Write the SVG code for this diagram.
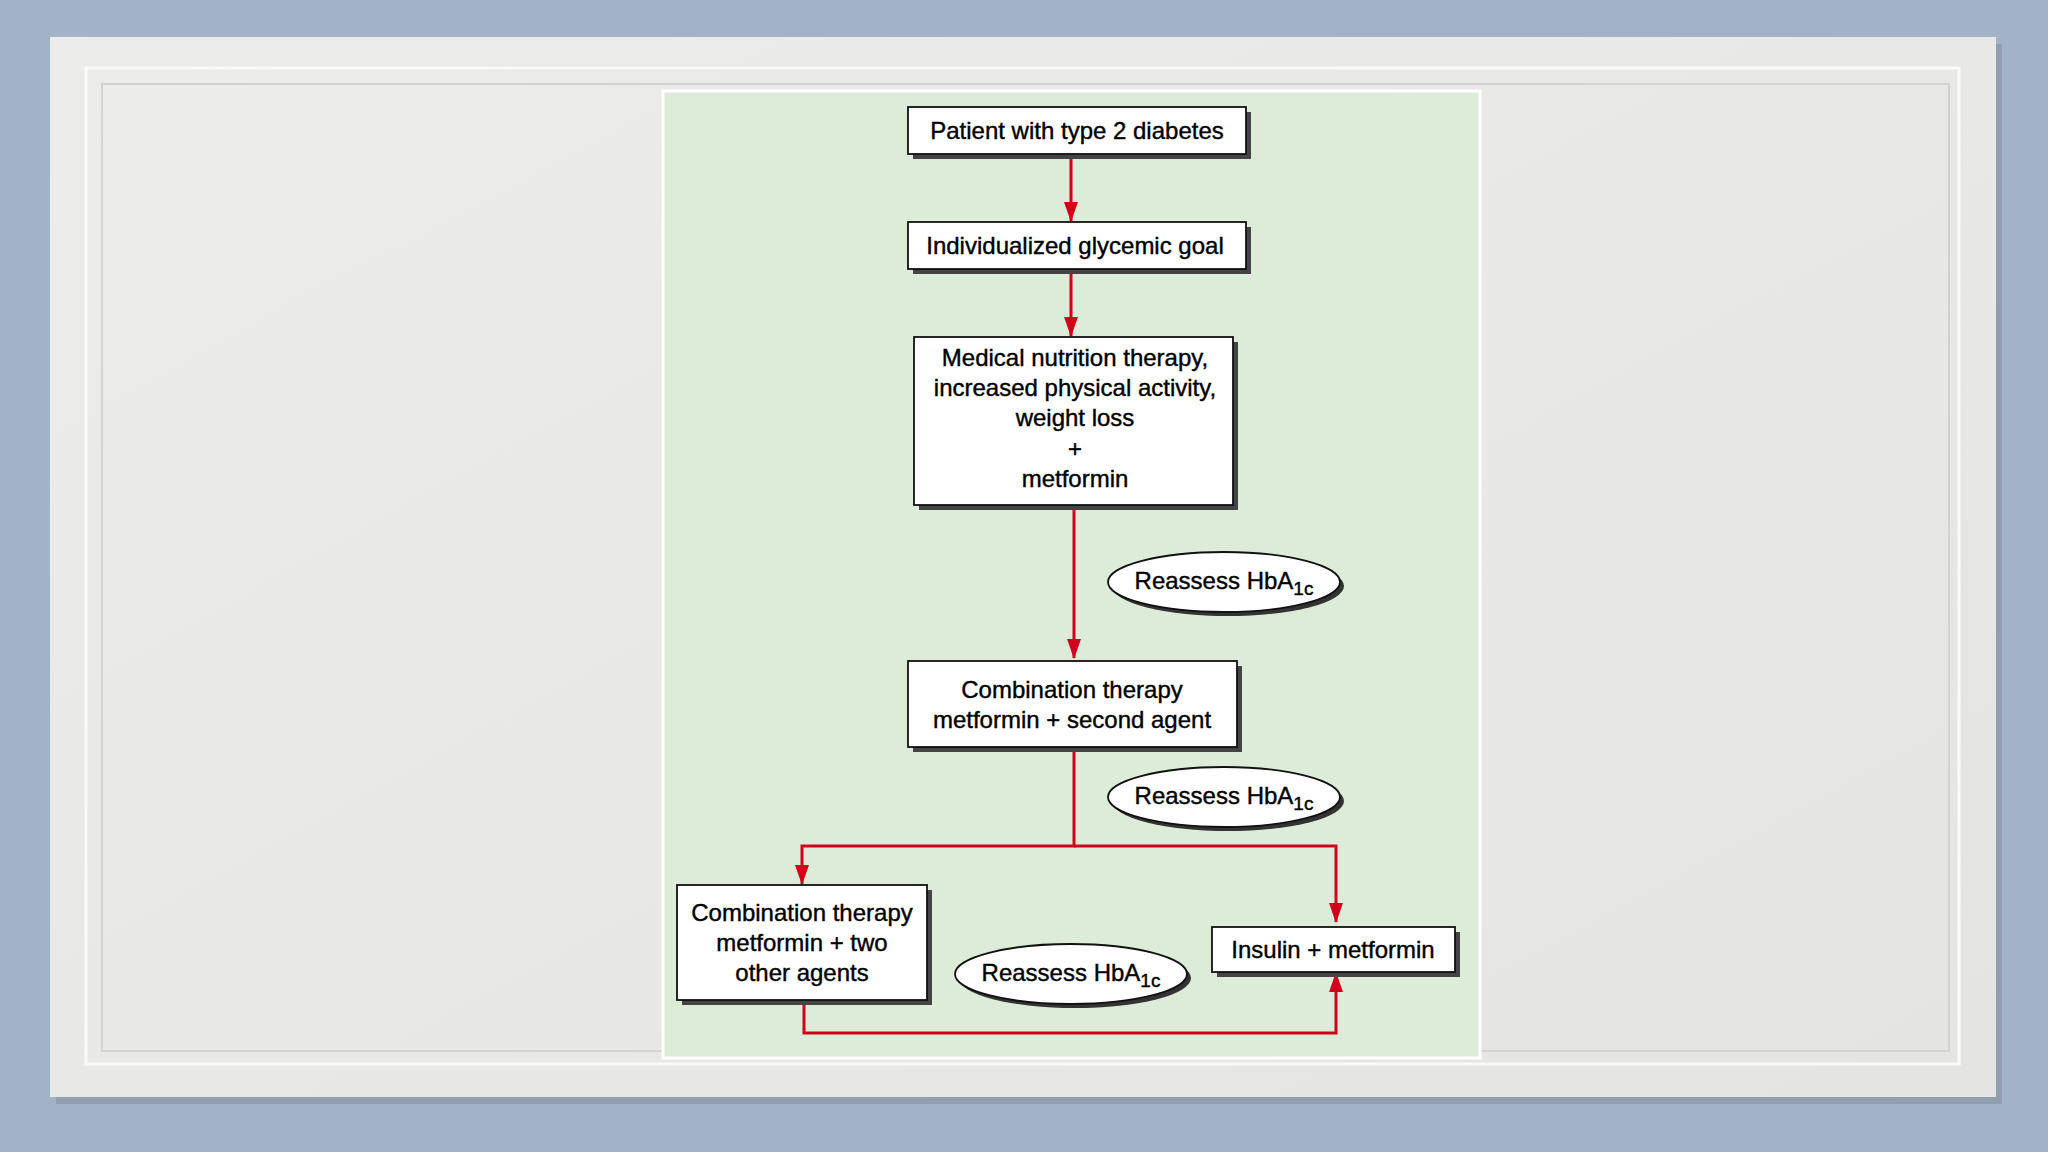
<svg xmlns="http://www.w3.org/2000/svg" width="2048" height="1152" viewBox="0 0 2048 1152">
<defs>
<marker id="ah" markerWidth="20" markerHeight="14" refX="19" refY="7" orient="auto" markerUnits="userSpaceOnUse"><path d="M0,0 L20,7 L0,14 Z" fill="#d0021b"/></marker>
<linearGradient id="pg" x1="0" y1="0" x2="1" y2="1"><stop offset="0" stop-color="#ececea"/><stop offset="1" stop-color="#e4e4e2"/></linearGradient>
</defs>
<style>
.box{fill:#fff;stroke:#111;stroke-width:1.8}
.sh{fill:#444}
.t{font-family:"Liberation Sans",Arial,sans-serif;font-size:24px;fill:#000;stroke:#000;stroke-width:0.4;text-anchor:middle}
.c{fill:none;stroke:#d0021b;stroke-width:3}
</style>
<rect width="2048" height="1152" fill="#a3b3c6"/>
<rect x="56" y="44" width="1946" height="1060" fill="#7d8a99" opacity="0.5"/>
<rect x="50" y="37" width="1946" height="1060" fill="url(#pg)"/>
<rect x="86" y="68" width="1873" height="996" fill="none" stroke="#fafafa" stroke-width="3"/>
<rect x="102" y="84" width="1847" height="967" fill="none" stroke="#d2d2d0" stroke-width="2"/>
<rect x="663" y="91" width="817" height="967" fill="#dcecd9" stroke="#fff" stroke-width="3"/>
<g id="connectors">
<line class="c" x1="1071" y1="154" x2="1071" y2="221" marker-end="url(#ah)"/>
<line class="c" x1="1071" y1="269" x2="1071" y2="336" marker-end="url(#ah)"/>
<line class="c" x1="1074" y1="505" x2="1074" y2="658" marker-end="url(#ah)"/>
<path class="c" d="M1074,747 V846 H802 V884" marker-end="url(#ah)"/>
<path class="c" d="M1074,846 H1336 V922" marker-end="url(#ah)"/>
<path class="c" d="M804,1000 V1033 H1336 V973" marker-end="url(#ah)"/>
</g>
<g id="n1"><rect class="sh" x="913" y="112" width="338" height="47"/><rect class="box" x="908" y="107" width="338" height="47"/><text class="t" x="1077" y="139">Patient with type 2 diabetes</text></g>
<g id="n2"><rect class="sh" x="913" y="227" width="338" height="47"/><rect class="box" x="908" y="222" width="338" height="47"/><text class="t" x="1075" y="254">Individualized glycemic goal</text></g>
<g id="n3"><rect class="sh" x="919" y="342" width="319" height="168"/><rect class="box" x="914" y="337" width="319" height="168"/>
<text class="t" x="1075" y="366">Medical nutrition therapy,</text><text class="t" x="1075" y="396">increased physical activity,</text><text class="t" x="1075" y="426">weight loss</text><text class="t" x="1075" y="457">+</text><text class="t" x="1075" y="487">metformin</text></g>
<g id="e1"><ellipse cx="1228" cy="586" rx="116" ry="30" fill="#333"/><ellipse cx="1224" cy="582" rx="116" ry="30" class="box"/><text class="t" x="1224" y="589">Reassess HbA<tspan font-size="19" dy="6">1c</tspan></text></g>
<g id="n4"><rect class="sh" x="913" y="666" width="329" height="86"/><rect class="box" x="908" y="661" width="329" height="86"/><text class="t" x="1072" y="698">Combination therapy</text><text class="t" x="1072" y="728">metformin + second agent</text></g>
<g id="e2"><ellipse cx="1228" cy="801" rx="116" ry="30" fill="#333"/><ellipse cx="1224" cy="797" rx="116" ry="30" class="box"/><text class="t" x="1224" y="804">Reassess HbA<tspan font-size="19" dy="6">1c</tspan></text></g>
<g id="n5"><rect class="sh" x="682" y="890" width="250" height="115"/><rect class="box" x="677" y="885" width="250" height="115"/><text class="t" x="802" y="921">Combination therapy</text><text class="t" x="802" y="951">metformin + two</text><text class="t" x="802" y="981">other agents</text></g>
<g id="n6"><rect class="sh" x="1217" y="932" width="243" height="45"/><rect class="box" x="1212" y="927" width="243" height="45"/><text class="t" x="1333" y="958">Insulin + metformin</text></g>
<g id="e3"><ellipse cx="1075" cy="978" rx="116" ry="30" fill="#333"/><ellipse cx="1071" cy="974" rx="116" ry="30" class="box"/><text class="t" x="1071" y="981">Reassess HbA<tspan font-size="19" dy="6">1c</tspan></text></g>
</svg>
